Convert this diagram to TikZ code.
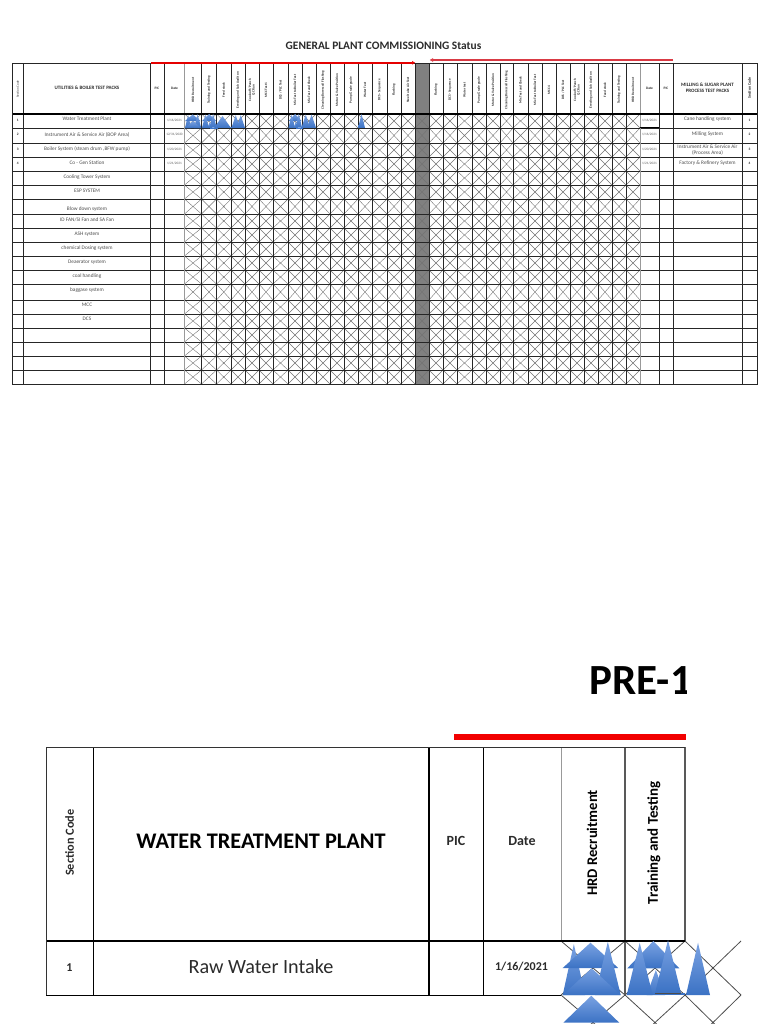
\documentclass[tikz,border=0pt]{standalone}
\usepackage{fontspec}
\setmainfont{Carlito}
\usetikzlibrary{arrows.meta}
\definecolor{tribluetop}{HTML}{7AA2E2}
\definecolor{triblue}{HTML}{3B72C4}
\definecolor{inkgrey}{HTML}{2B2B2B}
\definecolor{softred}{HTML}{D93A44}
\tikzset{
  gridline/.style={draw=black!85,line width=.95pt},
  softline/.style={draw=black!40,line width=.8pt},
  heavyline/.style={draw=black,line width=1.6pt},
  crossline/.style={draw=black!55,line width=.4pt},
  bigcross/.style={draw=black!70,line width=.8pt},
  redrule/.style={draw=red!90!black,line width=1.5pt},
  tri/.style={top color=tribluetop,bottom color=triblue,draw=none},
  small/.style={inner sep=0pt,align=center,text=black!70,font=\fontsize{5.3}{5.4}\selectfont},
  smallb/.style={small,text=inkgrey,font=\fontsize{5}{5.6}\selectfont\bfseries},
  tiny/.style={inner sep=0pt,text=inkgrey,font=\fontsize{3.5}{3.8}\selectfont\bfseries},
  tinyd/.style={inner sep=0pt,text=black!65,font=\fontsize{3.4}{3.8}\selectfont},
  vlab/.style={inner sep=0pt,align=center,rotate=90,text=inkgrey,font=\fontsize{3.4}{3.5}\selectfont\bfseries},
  bigb/.style={inner sep=0pt,text=black,font=\fontsize{14}{16}\selectfont\bfseries},
}
\newcommand{\bluetri}[4]{\path[tri] (#1,#3) -- (#2,#3) -- ({(#1+#2)/2},#4) -- cycle;}
\newcommand{\pileA}[4]{
  \begin{scope}[shift={(#1,#2)},xscale=#3,yscale=#4]
    \bluetri{1.7}{24}{54}{3}
    \bluetri{1.7}{57.3}{27}{1.7}
    \bluetri{34}{59.7}{54}{.7}
    \bluetri{1.7}{59.7}{54}{27.3}
  \end{scope}
}
\newcommand{\pileB}[4]{
  \begin{scope}[shift={(#1,#2)},xscale=#3,yscale=#4]
    \bluetri{2.3}{54.3}{27.3}{0}
    \bluetri{21.7}{40}{54}{29}
    \bluetri{1.7}{27.7}{54}{1.7}
    \path[fill=triblue] (30,52.3) rectangle (60,54);
    \bluetri{30}{56}{52.3}{-1}
  \end{scope}
}
\begin{document}
\begin{tikzpicture}[x=1pt,y=-1pt]
  \useasboundingbox (0,0) rectangle (768,1024);

  \node[inner sep=0pt,text=inkgrey,font=\fontsize{11.4}{13}\selectfont\bfseries] (title) at (383.5,46) {GENERAL PLANT COMMISSIONING Status};

  \fill[black!50] (415,64) rectangle (429,384);
  \foreach \xa/\xb in {184.5/201.5,201.5/216.5,216.5/231,231/245,245/259,259/273,273/288,288/302,302/316,316/330,330/344,344/358,358/372,372/387,387/401,401/415,415/429,429/443,443/457,457/472,472/486,486/500,500/513,513/528,528/542,542/556,556/570,570/584,584/598,598/612,612/626,626/640}
    \foreach \ya/\yb in {114/128,128/143,143/157,157/171,171/185,185/199,199/214,214/228,228/242,242/256,256/270,270/284,284/300,300/314,314/328,328/342,342/356,356/370,370/384}
      \draw[crossline] (\xa,\ya) -- (\xb,\yb) (\xa,\yb) -- (\xb,\ya);

  \foreach \y in {128,143,157,171,185,199,214,228,242,256,270,284,300,314,328,342,356,370}
    \draw[gridline] (12,\y) -- (757,\y);
  \foreach \x in {23.5,150,164,201.5,216.5,231,245,259,273,288,302,316,330,344,358,372,387,401,415,429,443,457,472,486,500,513,528,542,556,570,584,598,612,626,659,673,742}
    \draw[gridline] (\x,64) -- (\x,384);
  \foreach \x in {184.5,640}
    \draw[softline] (\x,64) -- (\x,384);
  \draw[heavyline] (12,114) -- (757,114);
  \draw[heavyline,line width=1pt] (640,128) -- (659,128);
  \draw[gridline,line width=1pt] (12,64) rectangle (757,384);

  \pileA{184.5}{114}{.28}{.26}
  \pileB{201.5}{114}{.27}{.26}
  \bluetri{214}{231}{128}{116}
  \bluetri{231.5}{240}{128}{115}
  \bluetri{236.5}{245}{128}{115}
  \pileB{288}{114}{.25}{.26}
  \bluetri{301.5}{310}{128}{114.5}
  \bluetri{307}{316}{128}{114.5}
  \bluetri{358}{365}{128}{114}

  \coordinate (redstartl) at (151,62.8);
  \coordinate (redendl) at (415.5,62.8);
  \coordinate (redstartr) at (673,60);
  \coordinate (redendr) at (429.5,60);
  \draw[redrule,-{Latex[length=3.5pt,width=4pt]}] (redstartl) -- (redendl);
  \draw[redrule,draw=softred,-{Latex[length=3.5pt,width=4pt]}] (redstartr) -- (redendr);

  \node[tiny,rotate=90,font=\fontsize{3.2}{3.4}\selectfont] (codel) at (17.8,89) {Section Code};
  \node[smallb] (headl) at (87,88) {UTILITIES \& BOILER TEST PACKS};
  \node[tiny] (picl) at (157,88) {PIC};
  \node[tiny] (datel) at (174.5,88) {Date};
  \node[tiny] (dater) at (649.5,88) {Date};
  \node[tiny] (picr) at (666,88) {PIC};
  \node[smallb] (headr) at (707.5,88) {MILLING \& SUGAR PLANT\\PROCESS TEST PACKS};
  \node[inner sep=0pt,rotate=90,text=inkgrey,font=\fontsize{4}{4.4}\selectfont\bfseries] (coder) at (749.5,88) {Section Code};

  \foreach \x/\lab [count=\i] in {193/{HRD Recruitment},209/{Training and Testing},223.7/{Feed stock},238/{Erecting and Sub Audit on},252/{Cook-off/Punch\\QC Run},266/{MCC Test 1},280.5/{DCS / PLC Test},295/{Mix Test to Boiler Test},309/{Mix Test and Check},323/{Cleaning Borescoil Flushing},337/{Motor \& Valve Position},351/{Pump Grade grade},365/{Water Test},379.5/{DCS - Sequence},394/{Flushing},408/{Steel tube Air Test}}
    \node[vlab] (topl\i) at (\x,90) {\lab};
  \foreach \x/\lab [count=\i] in {436/{Flushing},450/{DCS - Sequence},464.5/{Water test},479/{Pump Grade grade},493/{Motor \& Valve Position},506.5/{Cleaning Borescoil Flushing},520.5/{Mix Test and Check},535/{Mix Test to Boiler Test},549/{MCC 4},563/{DCS / PLC Test},577/{Cook-off/Punch\\QC Run},591/{Erecting and Sub Audit on},605/{Feed stock},619/{Training and Testing},633/{HRD Recruitment}}
    \node[vlab] (topr\i) at (\x,90) {\lab};

  \foreach \y/\lab [count=\i] in {119/{Water Treatment Plant},134.5/{Instrument Air \& Service Air (BOP Area)},149/{Boiler System (steam drum ,BFW pump)},163/{Co - Gen Station},177/{Cooling Tower System},191/{ESP SYSTEM},209.5/{Blow down system},219.5/{ID FAN/SI Fan and SA Fan},234/{ASH system},248/{chemical Dosing system},262/{Deaerator system},276/{coal handling},290/{baggase system},304.5/{MCC},318.5/{DCS}}
    \node[small] (rowl\i) at (87,\y) {\lab};
  \foreach \y/\lab [count=\i] in {119/{Cane handling system},134.5/{Milling System},150/{Instrument Air \& Service Air\\(Process Area)},163/{Factory \& Refinery System}}
    \node[small] (rowr\i) at (707.5,\y) {\lab};
  \foreach \y/\d/\e [count=\i] in {120/{1/16/2021}/{1/16/2021},134.5/{12/31/2020}/{1/16/2021},149/{1/20/2021}/{1/20/2021},163/{1/21/2021}/{1/21/2021}} {
    \node[tiny] (codeln\i) at (17.8,\y) {\i};
    \node[tinyd] (dateln\i) at (174.5,\y) {\d};
    \node[tinyd] (datern\i) at (649.5,\y) {\e};
    \node[tiny] (codern\i) at (749.5,\y) {\i};
  }

  \begin{scope}
    \clip (0,0) rectangle (686,1024);
    \node[inner sep=0pt,anchor=base west,text=black,font=\fontsize{43}{45}\selectfont\bfseries] (pre) at (589.5,694) {PRE-1};
  \end{scope}
  \draw[red!95!black,line width=6pt] (454,737) -- (686,737);

  \begin{scope}
    \clip (0,0) rectangle (768,1024);
    \foreach \xa/\xb/\ya/\yb in {561/625/941/995,625/685/941/995,685/741/941/995,561/625/995/1050,625/685/995/1050,685/741/995/1050}
      \draw[bigcross] (\xa,\ya) -- (\xb,\yb) (\xa,\yb) -- (\xb,\ya);
  \end{scope}

  \foreach \x in {93,483}
    \draw[gridline,draw=black,line width=1pt] (\x,747) -- (\x,995);
  \draw[softline,line width=1pt] (561,747) -- (561,941);
  \draw[gridline,draw=black!65,line width=1.2pt] (625,747) -- (625,995);
  \draw[gridline,draw=black!65,line width=1.2pt] (685,747) -- (685,941);
  \draw[heavyline,line width=2pt] (429,747) -- (429,995);
  \draw[heavyline] (46,941) -- (685,941);
  \draw[gridline,draw=black,line width=1pt] (46,995.3) -- (561,995.3);
  \draw[gridline,draw=black!80,line width=1pt] (46,995.3) -- (46,747) -- (685,747);

  \pileA{561}{941}{1}{1}
  \bluetri{563.3}{619.3}{1022.7}{995.7}
  \pileB{625}{941}{1}{1}
  \draw[black!70,line width=.6pt] (655,993.3) -- (681,993.3);
  \bluetri{686}{710}{995}{942.7}

  \node[bigb,rotate=90,text=inkgrey,font=\fontsize{12.3}{15}\selectfont\bfseries] (seccode) at (69.5,842.7) {Section Code};
  \node[bigb,font=\fontsize{22.3}{24}\selectfont\bfseries] (plant) at (261,841) {WATER TREATMENT PLANT};
  \node[bigb,text=inkgrey] (pic) at (456,841) {PIC};
  \node[bigb,text=inkgrey] (date) at (522,841) {Date};
  \node[bigb,rotate=90,font=\fontsize{14.7}{16}\selectfont\bfseries] (hrd) at (592,843) {HRD Recruitment};
  \node[bigb,rotate=90,font=\fontsize{14.9}{16}\selectfont\bfseries] (train) at (654,843) {Training and Testing};
  \node[bigb,text=inkgrey,font=\fontsize{12}{14}\selectfont\bfseries] (one) at (69.5,967.5) {1};
  \node[inner sep=0pt,text=inkgrey,font=\fontsize{20.2}{22}\selectfont] (intake) at (261,967) {Raw Water Intake};
  \node[bigb,text=inkgrey,font=\fontsize{12}{14}\selectfont\bfseries] (first) at (521.5,967) {1/16/2021};
\end{tikzpicture}
\end{document}
